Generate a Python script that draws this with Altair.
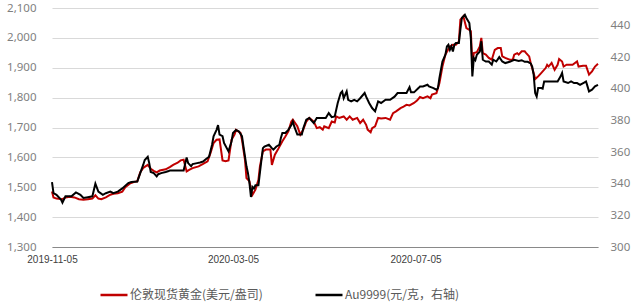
import altair as alt
import pandas as pd

start = pd.Timestamp("2019-11-05")
red_name = "伦敦现货黄金(美元/盎司)"
black_name = "Au9999(元/克，右轴)"

# days since 2019-11-05 and London spot gold (USD/oz)
red_days = [0, 1, 3, 7, 9, 12, 15, 18, 21, 24, 27, 29, 31, 33, 36, 39, 41, 44, 47, 49,
            52, 55, 57, 59, 61, 64, 66, 68, 70, 72, 76, 79, 81, 84, 86, 88, 90, 92, 94, 98,
            101, 104, 106, 108, 110, 112, 114, 116, 118, 120, 122, 123, 126, 127, 129, 130,
            132, 133, 134, 136, 138, 139, 141, 143, 146, 147, 149, 151, 154, 156, 158, 160,
            161, 164, 166, 168, 170, 172, 175, 177, 179, 181, 182, 185, 187, 189, 190, 192,
            195, 197, 199, 201, 204, 206, 208, 210, 211, 213, 214, 216, 218, 220, 223, 226,
            228, 230, 233, 235, 237, 239, 242, 244, 246, 248, 251, 253, 254, 257, 259, 261,
            263, 266, 268, 270, 272, 273, 275, 277, 279, 280, 281, 282, 284, 286, 287, 288,
            290, 292, 294, 296, 298, 300, 301, 303, 306, 308, 309, 311, 312, 314, 316, 317,
            319, 320, 322, 323, 325, 327, 330, 331, 332, 334, 336, 338, 339, 341, 342, 344,
            346, 348, 351, 352, 355, 357, 359, 361, 363, 365]
red_vals = [1486, 1466, 1462, 1460, 1466, 1468, 1466, 1460, 1458, 1460, 1462, 1473, 1462, 1460,
            1466, 1475, 1478, 1480, 1485, 1500, 1512, 1518, 1520, 1550, 1565, 1575, 1562, 1555,
            1550, 1556, 1560, 1568, 1575, 1582, 1590, 1592, 1553, 1559, 1564, 1570, 1578, 1587,
            1615, 1648, 1659, 1660, 1590, 1587, 1590, 1659, 1676, 1692, 1682, 1659, 1592, 1531,
            1520, 1492, 1475, 1492, 1525, 1570, 1620, 1626, 1626, 1575, 1609, 1626, 1654, 1670,
            1687, 1720, 1726, 1704, 1676, 1693, 1720, 1732, 1720, 1698, 1701, 1693, 1704, 1698,
            1720, 1717, 1737, 1732, 1737, 1726, 1737, 1726, 1732, 1715, 1726, 1709, 1693, 1684,
            1698, 1704, 1732, 1730, 1732, 1726, 1748, 1754, 1765, 1770, 1776, 1774, 1782, 1790,
            1802, 1798, 1804, 1798, 1810, 1815, 1849, 1904, 1944, 1971, 1977, 1977, 1988, 2061,
            2072, 2033, 2027, 2022, 1910, 1949, 1952, 1971, 2000, 1949, 1944, 1933, 1927, 1960,
            1966, 1966, 1938, 1933, 1927, 1927, 1944, 1949, 1944, 1955, 1955, 1949, 1938, 1916,
            1882, 1862, 1871, 1882, 1899, 1910, 1904, 1916, 1893, 1910, 1929, 1921, 1904, 1910,
            1910, 1910, 1921, 1904, 1907, 1907, 1877, 1888, 1904, 1913]

# days since 2019-11-05 and Au9999 (CNY/g)
black_days = [0, 1, 3, 6, 7, 9, 13, 16, 19, 21, 24, 27, 29, 31, 34, 36, 39, 41, 44, 47, 51, 53,
              57, 59, 61, 62, 64, 65, 66, 68, 70, 71, 73, 76, 78, 79, 88, 90, 91, 93, 94, 97,
              99, 101, 103, 105, 107, 108, 110, 111, 112, 114, 115, 118, 120, 121, 123, 125,
              127, 128, 130, 131, 132, 133, 134, 135, 136, 138, 140, 141, 142, 145, 147, 148,
              150, 152, 153, 154, 156, 158, 160, 161, 162, 164, 167, 168, 170, 172, 175, 177,
              180, 183, 185, 187, 189, 191, 193, 194, 195, 197, 198, 200, 202, 204, 206, 209,
              210, 212, 214, 216, 218, 220, 223, 226, 229, 231, 237, 239, 240, 242, 245, 246,
              248, 251, 252, 255, 257, 258, 259, 260, 261, 263, 264, 265, 266, 267, 268, 269,
              270, 272, 273, 274, 276, 277, 279, 280, 281, 282, 283, 284, 286, 287, 288, 290,
              292, 294, 295, 297, 299, 301, 303, 306, 309, 312, 314, 316, 318, 320, 321, 322,
              323, 324, 325, 327, 328, 329, 333, 338, 340, 341, 342, 345, 347, 349, 351, 353,
              356, 357, 358, 359, 361, 363, 365]
black_vals = [341, 334, 333, 330, 328, 332, 332, 334.5, 333, 331, 331.5, 332, 340, 335, 333, 334,
              335, 334, 335, 337, 340.4, 341, 341.4, 346.7, 352, 355, 357, 353, 347.4, 346.7,
              344.6, 346, 346.7, 347.4, 348, 348.4, 348.4, 356.6, 353, 351, 352.4, 353, 353.4,
              354, 355.6, 357, 364.6, 369.9, 374, 377, 371, 370, 365.7, 360.4, 366.7, 372, 374,
              373, 370, 363.5, 351, 346.7, 340.4, 331.6, 338, 337, 339, 339, 355, 362.5, 363.5,
              364.6, 362.5, 361.5, 363.5, 364.6, 368.9, 372, 372, 374, 377, 379.3, 376, 371, 371,
              375, 380.4, 381.5, 378.3, 381.5, 381.5, 381.5, 384.6, 382, 382.5, 391, 397.3, 398.3,
              394, 398.3, 393, 392, 393, 392, 394, 397.3, 395, 391, 387.8, 385.7, 392, 391, 393,
              393, 395, 397.3, 397.3, 401, 397.7, 397.7, 400.4, 401.4, 401.4, 402.5, 401.4, 400.4,
              399.4, 400.4, 406.8, 412, 417.2, 421.5, 426.7, 427.8, 424.6, 426.7, 423.5, 427.8,
              428.9, 428.9, 437.3, 444.7, 446.7, 444.7, 441.5, 432, 407.8, 419.4, 418, 421.5,
              423.5, 430, 418.3, 417.2, 417.2, 415.2, 418.3, 417.2, 420, 417.2, 416.2, 417, 418.3,
              417.5, 418, 417, 417, 416, 414, 408.8, 397.3, 395.1, 400.4, 400.4, 400, 404.6,
              404.6, 404.6, 407.8, 410, 404.6, 403.6, 404.6, 403.6, 403.6, 402.5, 404, 404.6,
              401.5, 398.3, 399.4, 401.5, 402.5]

left_ticks = [1300, 1400, 1500, 1600, 1700, 1800, 1900, 2000, 2100]
right_ticks = [300, 320, 340, 360, 380, 400, 420, 440]

df_red = pd.DataFrame({
    "date": start + pd.to_timedelta(red_days, unit="D"),
    "value": red_vals,
    "series": red_name,
})
df_black = pd.DataFrame({
    "date": start + pd.to_timedelta(black_days, unit="D"),
    "value": black_vals,
    "series": black_name,
})

color = alt.Color(
    "series:N",
    scale=alt.Scale(domain=[red_name, black_name], range=["#C00000", "#000000"]),
    legend=alt.Legend(
        title=None, orient="none", direction="horizontal",
        legendX=47, legendY=272,
        symbolType="stroke", symbolSize=729, symbolStrokeWidth=2.5,
        labelFont="Noto Sans CJK SC", labelFontSize=12, labelColor="#595959",
        labelOffset=1, columnPadding=47, labelLimit=400,
    ),
)

x = alt.X(
    "date:T",
    scale=alt.Scale(domain=[alt.DateTime(year=2019, month=11, date=5),
                            alt.DateTime(year=2020, month=11, date=4)]),
    axis=alt.Axis(
        title=None,
        values=[alt.DateTime(year=2019, month=11, date=5),
                alt.DateTime(year=2020, month=3, date=5),
                alt.DateTime(year=2020, month=7, date=5)],
        format="%Y-%m-%d", labelFlush=False, grid=False, ticks=False,
        domainColor="#898989", domainWidth=1,
        labelFont="Liberation Sans", labelFontSize=10, labelColor="#404040",
        labelPadding=7,
    ),
)

red = alt.Chart(df_red).mark_line(strokeWidth=2).encode(
    x=x,
    y=alt.Y("value:Q",
            scale=alt.Scale(domain=[1300, 2100], nice=False, zero=False),
            axis=alt.Axis(title=None, values=left_ticks, format=",.0f", grid=True,
                          gridColor="#D9D9D9", gridWidth=1, domain=False, ticks=False,
                          labelPadding=16, labelColor="#7F7F7F", labelFont="Noto Sans",
                          labelFontSize=11.5)),
    color=color,
)

black = alt.Chart(df_black).mark_line(strokeWidth=2).encode(
    x=x,
    y=alt.Y("value:Q",
            scale=alt.Scale(domain=[300, 451], nice=False, zero=False),
            axis=alt.Axis(title=None, orient="right", values=right_ticks, format=".0f",
                          grid=False, domain=False, ticks=False, labelPadding=12,
                          labelColor="#7F7F7F", labelFont="Noto Sans",
                          labelFontSize=11.5)),
    color=color,
)

chart = alt.layer(red, black).resolve_scale(y="independent").properties(
    width=546, height=239,
    autosize=alt.AutoSizeParams(type="none"),
    padding={"left": 52, "top": 8, "right": 39, "bottom": 58},
).configure_view(stroke=None)

chart.save("out.html", embed_options={"renderer": "svg", "actions": False})
